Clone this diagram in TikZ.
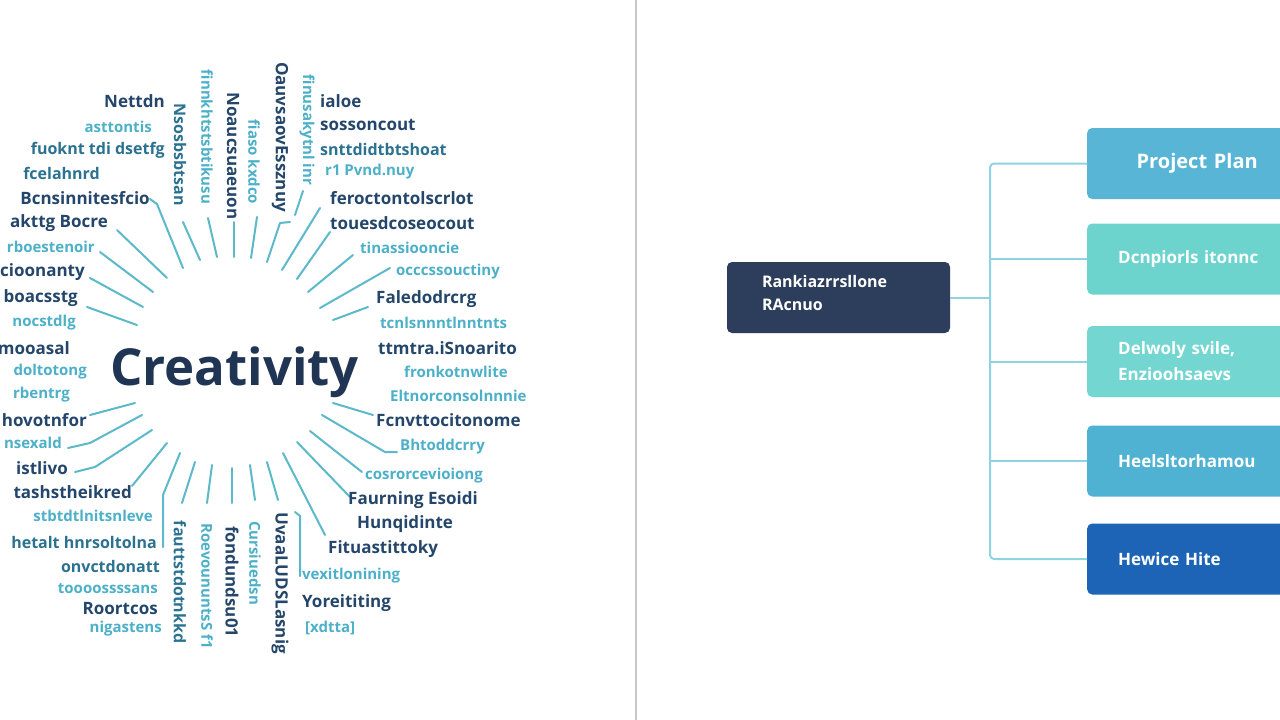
\documentclass[tikz,border=0pt]{standalone}
\usepackage{fontspec}
\setmainfont{Open Sans}
\definecolor{cnavy}{HTML}{1F3553}
\definecolor{cdk}{HTML}{24466B}
\definecolor{cmd}{HTML}{2A7290}
\definecolor{clt}{HTML}{4CB0C8}
\definecolor{cray}{HTML}{5CB9C9}
\definecolor{cmain}{HTML}{2C3E5B}
\definecolor{cbA}{HTML}{58B5D5}
\definecolor{cbB}{HTML}{6CD4CD}
\definecolor{cbC}{HTML}{74D6D0}
\definecolor{cbD}{HTML}{50B2D3}
\definecolor{cbE}{HTML}{1E64B6}
\definecolor{cconn}{HTML}{8FD3E3}
\definecolor{cdiv}{HTML}{C8C8C8}
\tikzset{
  dk/.style={inner sep=0pt, text=cdk, font=\fontsize{17}{20}\selectfont\bfseries},
  md/.style={inner sep=0pt, text=cmd, font=\fontsize{16}{19}\selectfont\bfseries},
  lt/.style={inner sep=0pt, text=clt, font=\fontsize{15}{18}\selectfont\bfseries},
  ray/.style={draw=cray, line width=2pt, line cap=round, line join=round},
  vcol/.style={rotate=-90},
  mainbox/.style={fill=cmain, rounded corners=5pt, minimum width=223pt, minimum height=71pt},
  maintxt/.style={inner sep=0pt, align=left, text=white, font=\fontsize{16}{23}\selectfont\bfseries},
  bbox/.style={rounded corners=5pt, minimum width=220pt, minimum height=71pt, anchor=west,
    inner xsep=31pt, text width=158pt, text=white,
    font=\fontsize{17}{26}\selectfont\bfseries},
  conn/.style={draw=cconn, line width=2pt},
}
\begin{document}
\begin{tikzpicture}[x=1pt,y=-1pt]
\clip (0,0) rectangle (1280,720);
\fill[white] (0,0) rectangle (1280,720);

% divider
\draw[cdiv, line width=2pt] (636,0) -- (636,720);

% central word
\node[inner sep=0pt, anchor=base, text=cnavy, font=\fontsize{51}{58}\selectfont\bfseries] (cr) at (234.5,385) {Creativity};

% rays
\draw[ray] (150,199) -- (157,204) -- (183,268);
\draw[ray] (183,222) -- (200,260);
\draw[ray] (208,218) -- (217,257);
\draw[ray] (234,222) -- (234,257);
\draw[ray] (257,217) -- (251,258);
\draw[ray] (290,222) -- (280,223) -- (267,262);
\draw[ray] (303,191) -- (295,215);
\draw[ray] (320,208) -- (282,270);
\draw[ray] (330,232) -- (297,279);
\draw[ray] (353,255) -- (308,292);
\draw[ray] (390,268) -- (320,308);
\draw[ray] (368,307) -- (333,320);
\draw[ray] (117,230) -- (167,278);
\draw[ray] (100,252) -- (153,292);
\draw[ray] (90,278) -- (143,307);
\draw[ray] (87,307) -- (137,325);
\draw[ray] (90,415) -- (135,403);
\draw[ray] (68,448) -- (90,443) -- (142,415);
\draw[ray] (75,472) -- (95,467) -- (152,430);
\draw[ray] (132,486) -- (167,443);
\draw[ray] (163,547) -- (163,495) -- (180,453);
\draw[ray] (182,503) -- (195,462);
\draw[ray] (207,503) -- (212,465);
\draw[ray] (232,503) -- (232,468);
\draw[ray] (255,500) -- (250,465);
\draw[ray] (278,500) -- (267,462);
\draw[ray] (283,453) -- (325,535);
\draw[ray] (295,512) -- (300,516) -- (300,576);
\draw[ray] (297,442) -- (350,497);
\draw[ray] (310,431) -- (362,472);
\draw[ray] (322,415) -- (385,452) -- (397,452);
\draw[ray] (333,403) -- (373,415);

% left labels
\node[dk, anchor=east] (l1) at (165,101) {Nettdn};
\node[lt, anchor=east] (l2) at (152,127) {asttontis};
\node[md, anchor=east] (l3) at (165,150) {fuoknt tdi dsetfg};
\node[md, anchor=east] (l4) at (100,173) {fcelahnrd};
\node[dk, anchor=east] (l5) at (150,198) {Bcnsinnitesfcio};
\node[dk, anchor=east] (l6) at (108,223) {akttg Bocre};
\node[lt, anchor=east] (l7) at (95,247) {rboestenoir};
\node[dk, anchor=east] (l8) at (85,272) {cioonanty};
\node[dk, anchor=east] (l9) at (78,298) {boacsstg};
\node[lt, anchor=east] (l10) at (76,323) {nocstdlg};
\node[dk, anchor=east] (l11) at (70,348) {mooasal};
\node[lt, anchor=east] (l12) at (87,372) {doltotong};
\node[lt, anchor=east] (l13) at (70,395) {rbentrg};
\node[dk, anchor=east] (l14) at (87,420) {hovotnfor};
\node[lt, anchor=east] (l15) at (62,443) {nsexald};
\node[dk, anchor=east] (l16) at (68,468) {istlivo};
\node[dk, anchor=east] (l17) at (132,492) {tashstheikred};
\node[lt, anchor=east] (l18) at (153,516) {stbtdtlnitsnleve};
\node[md, anchor=east] (l19) at (157,542) {hetalt hnrsoltolna};
\node[md, anchor=east] (l20) at (160,566) {onvctdonatt};
\node[lt, anchor=east] (l21) at (158,589) {toooossssans};
\node[dk, anchor=east] (l22) at (158,609) {Roortcos};
\node[lt, anchor=east] (l23) at (162,629) {nigastens};

% right labels
\node[dk, anchor=west] (r1) at (320,101) {ialoe};
\node[dk, anchor=west] (r2) at (320,125) {sossoncout};
\node[md, anchor=west] (r3) at (320,149) {snttdidtbtshoat};
\node[lt, anchor=west] (r4) at (325,172) {r1 Pvnd.nuy};
\node[dk, anchor=west] (r5) at (330,198) {feroctontolscrlot};
\node[dk, anchor=west] (r6) at (330,223) {touesdcoseocout};
\node[lt, anchor=west] (r7) at (360,248) {tinassiooncie};
\node[lt, anchor=west] (r8) at (396,272) {occcssouctiny};
\node[dk, anchor=west] (r9) at (376,299) {Faledodrcrg};
\node[lt, anchor=west] (r10) at (380,323) {tcnlsnnntlnntnts};
\node[dk, anchor=west] (r11) at (378,348) {ttmtra.iSnoarito};
\node[lt, anchor=west] (r12) at (404,372) {fronkotnwlite};
\node[lt, anchor=west] (r13) at (390,396) {Eltnorconsolnnnie};
\node[dk, anchor=west] (r14) at (376,420) {Fcnvttocitonome};
\node[lt, anchor=west] (r15) at (400,447) {Bhtoddcrry};
\node[lt, anchor=west] (r16) at (365,476) {cosrorcevioiong};
\node[dk, anchor=west] (r17) at (348,500) {Faurning Esoidi};
\node[dk, anchor=west] (r18) at (357,524) {Hunqidinte};
\node[dk, anchor=west] (r19) at (328,549) {Fituastittoky};
\node[lt, anchor=west] (r20) at (302,576) {vexitlonining};
\node[dk, anchor=west] (r21) at (302,603) {Yoreititing};
\node[lt, anchor=west] (r22) at (305,628) {[xdtta]};

% vertical columns, top
\node[md, vcol] (t1) at (180,155) {Nsosbsbtsan};
\node[lt, vcol] (t2) at (207,137) {finnkhtstsbtikusu};
\node[dk, vcol] (t3) at (233,156) {Noaucsuaeuon};
\node[lt, vcol] (t4) at (254,162) {fiaso kxdco};
\node[dk, vcol] (t5) at (280,137) {OauvsaovEssznuy};
\node[lt, vcol] (t6) at (307,130) {finusakytnl inr};
% vertical columns, bottom
\node[md, vcol] (u1) at (180,582) {fauttstdotnkkd};
\node[lt, vcol] (u2) at (207,586) {RoevoununtsS f1};
\node[dk, vcol] (u3) at (232,582) {fondundsu01};
\node[lt, vcol] (u4) at (255,563) {Cursiuedsn};
\node[dk, vcol] (u5) at (280,583) {UvaaLUDSLasnig};

% right diagram
\node[mainbox] (main) at (838.5,297.5) {};
\node[maintxt, anchor=north west] (maintext) at ([xshift=35pt, yshift=-13pt]main.north west) {Rankiazrrsllone\\RAcnuo};
\node[bbox, fill=cbA, align=center, font=\fontsize{20}{24}\selectfont\bfseries] (b1) at (1087,163.5) {Project Plan};
\node[bbox, fill=cbB, align=left] (b2) at (1087,259) {Dcnpiorls itonnc};
\node[bbox, fill=cbC, align=left] (b3) at (1087,361.5) {Delwoly svile,\\Enzioohsaevs};
\node[bbox, fill=cbD, align=left] (b4) at (1087,461) {Heelsltorhamou};
\node[bbox, fill=cbE, align=left] (b5) at (1087,559) {Hewice Hite};

\coordinate (tk) at (990,0);
\draw[conn] (main.east) -- (main.east -| tk);
\draw[conn, rounded corners=4pt] (b1.west) -- (b1.west -| tk) -- (b5.west -| tk) -- (b5.west);
\draw[conn] (b2.west) -- (b2.west -| tk);
\draw[conn] (b3.west) -- (b3.west -| tk);
\draw[conn] (b4.west) -- (b4.west -| tk);
\end{tikzpicture}
\end{document}
